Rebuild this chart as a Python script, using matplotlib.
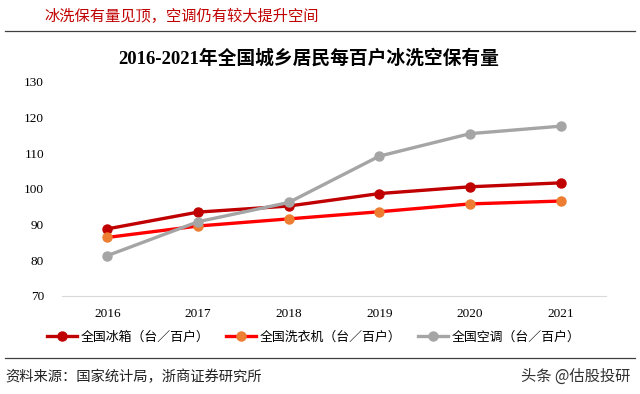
import matplotlib.pyplot as plt
from matplotlib.lines import Line2D

plt.rcParams['font.family'] = ['Liberation Serif', 'Noto Sans CJK SC', 'DejaVu Sans']

years = ['2016', '2017', '2018', '2019', '2020', '2021']
fridge = [88.8, 93.5, 95.2, 98.7, 100.6, 101.7]
washer = [86.4, 89.6, 91.6, 93.6, 95.8, 96.6]
aircon = [81.3, 90.8, 96.2, 109.2, 115.5, 117.6]
labels = ['全国冰箱（台／百户）', '全国洗衣机（台／百户）', '全国空调（台／百户）']

fig = plt.figure(figsize=(6.4, 3.94), dpi=100)
ax = fig.add_axes([0.097, 0.249, 0.85, 0.543])

x = range(len(years))
ax.plot(x, fridge, color='#C00000', lw=2.4, marker='o', ms=6.5,
        mfc='#C00000', mec='#C00000', label=labels[0])
ax.plot(x, washer, color='#FF0000', lw=2.4, marker='o', ms=6.5,
        mfc='#ED7D31', mec='#ED7D31', label=labels[1])
ax.plot(x, aircon, color='#A5A5A5', lw=2.4, marker='o', ms=6.5,
        mfc='#A5A5A5', mec='#A5A5A5', label=labels[2])

ax.set_xlim(-0.5, len(years) - 0.5)
ax.set_ylim(70, 130)
ax.set_yticks(range(70, 131, 10))
ax.set_xticks(list(x))
ax.set_xticklabels(years)
ax.tick_params(length=0, labelsize=9.5, pad=9)
ax.tick_params(axis='y', pad=13)
for s in ['top', 'right', 'left']:
    ax.spines[s].set_visible(False)
ax.spines['bottom'].set_color('#D9D9D9')

ax.set_title('2016-2021年全国城乡居民每百户冰洗空保有量', fontsize=13.5,
             fontweight='bold', pad=13, x=0.454,
             family=['Liberation Serif', 'Noto Sans CJK SC'])

fig.legend(loc='center', bbox_to_anchor=(0.49, 0.145), ncol=3, frameon=False,
           handlelength=2.3, handletextpad=0.3, columnspacing=1.3,
           prop={'family': ['Noto Sans CJK SC'], 'size': 9.3})

fig.text(0.07, 0.957, '冰洗保有量见顶，空调仍有较大提升空间', color='#C00000',
         fontsize=11, va='center', family=['Noto Sans CJK SC'])
fig.text(0.008, 0.043, '资料来源：国家统计局，浙商证券研究所', color='#222222',
         fontsize=10.3, va='center', family=['Noto Sans CJK SC'])
fig.text(0.985, 0.046, '头条 @估股投研', color='#333333', ha='right',
         fontsize=11, va='center', family=['Noto Sans CJK SC'])

fig.add_artist(Line2D([0.008, 0.992], [0.921, 0.921], color='#404040', lw=0.9))
fig.add_artist(Line2D([0.008, 0.992], [0.091, 0.091], color='#404040', lw=0.9))

fig.savefig('out.png', dpi=100)
